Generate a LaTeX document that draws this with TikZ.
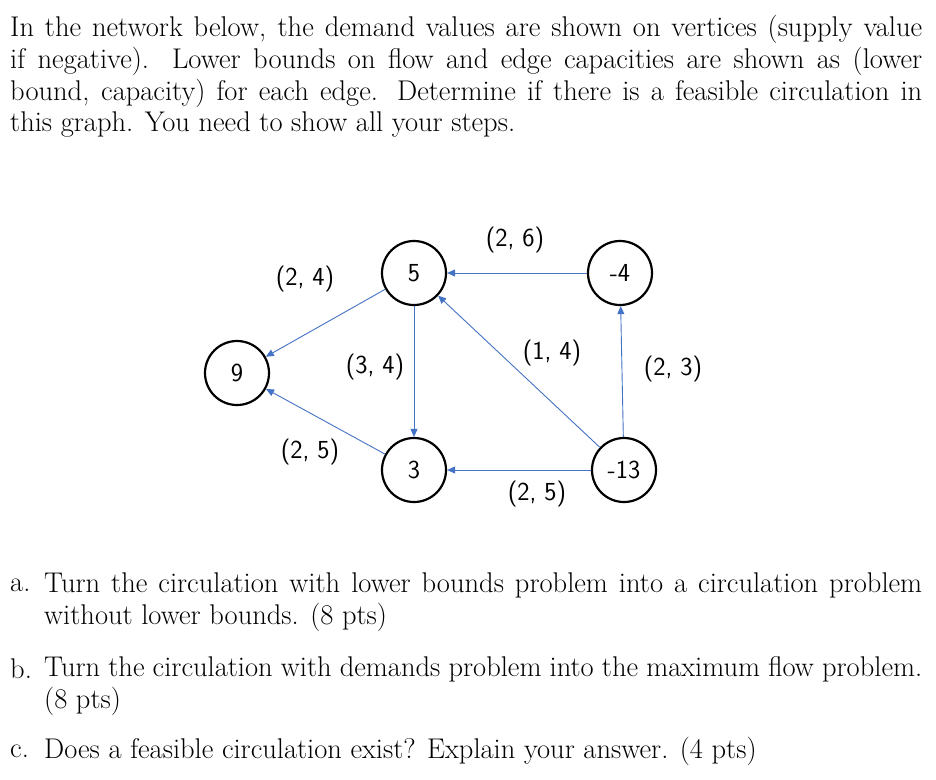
\documentclass[tikz,border=0pt]{standalone}
\usepackage{fontspec}
\usetikzlibrary{arrows.meta}
\definecolor{eb}{RGB}{68,114,196}
\begin{document}
\begin{tikzpicture}[x=1pt,y=-1pt,
  v/.style={circle,draw=black,line width=2.2pt,minimum size=64pt,inner sep=0pt,font=\sffamily\fontsize{26}{28}\selectfont},
  e/.style={draw=eb,line width=0.9pt,-{Triangle[length=8pt,width=7pt]}},
  lb/.style={font=\sffamily\fontsize{26}{28}\selectfont},
  tl/.style={anchor=west,inner sep=0pt,font=\fontsize{28.5}{32}\selectfont}]
\useasboundingbox (0,0) rectangle (936,779);
\node[tl] (l1) at (10,29) {\hbox to 912pt{In the network below, the demand values are shown on vertices (supply value}};
\node[tl] (l2) at (10,61) {\hbox to 912pt{if negative). Lower bounds on flow and edge capacities are shown as (lower}};
\node[tl] (l3) at (10,93) {\hbox to 912pt{bound, capacity) for each edge. Determine if there is a feasible circulation in}};
\node[tl] (l4) at (10,125) {this graph. You need to show all your steps.};
\node[v] (n9) at (237,373) {9};
\node[v] (n5) at (414,273) {5};
\node[v] (n4) at (620,273) {-4};
\node[v] (n3) at (414,470) {3};
\node[v] (n13) at (624,470) {-13};
\path[e] (n4) -- (n5);
\path[e] (n5) -- (n9);
\path[e] (n5) -- (n3);
\path[e] (n3) -- (n9);
\path[e] (n13) -- (n3);
\path[e] (n13) -- (n5);
\path[e] (n13) -- (n4);
\node[lb] (a) at (515,240) {(2, 6)};
\node[lb] (b) at (305,279) {(2, 4)};
\node[lb] (c) at (375,367) {(3, 4)};
\node[lb] (d) at (552,353) {(1, 4)};
\node[lb] (f) at (673,369) {(2, 3)};
\node[lb] (g) at (310,452) {(2, 5)};
\node[lb] (h) at (537,494) {(2, 5)};
\node[tl] (ma) at (10,585) {a.};
\node[tl] (a1) at (44,585) {\hbox to 878pt{Turn the circulation with lower bounds problem into a circulation problem}};
\node[tl] (a2) at (44,617) {without lower bounds. (8 pts)};
\node[tl] (mb) at (10,669) {b.};
\node[tl] (b1) at (44,669) {\hbox to 878pt{Turn the circulation with demands problem into the maximum flow problem.}};
\node[tl] (b2) at (44,701) {(8 pts)};
\node[tl] (mc) at (10,751) {c.};
\node[tl] (c1) at (44,751) {Does a feasible circulation exist? Explain your answer. (4 pts)};
\end{tikzpicture}
\end{document}
